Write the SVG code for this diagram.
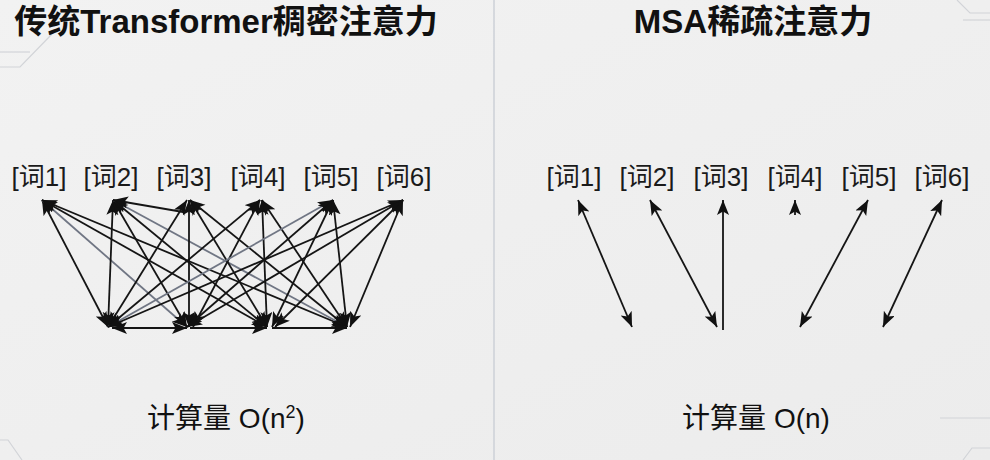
<svg xmlns="http://www.w3.org/2000/svg" width="990" height="460" viewBox="0 0 990 460">
<defs>
<linearGradient id="bg" x1="0" y1="0" x2="1" y2="1">
<stop offset="0" stop-color="#f2f2f2"/>
<stop offset="0.5" stop-color="#efefef"/>
<stop offset="1" stop-color="#ececec"/>
</linearGradient>
<marker id="ah" markerUnits="userSpaceOnUse" markerWidth="18" markerHeight="14" refX="15" refY="6" orient="auto-start-reverse">
<path d="M0,0 L15,6 L0,12 L3.5,6 z" fill="#111"/>
</marker>
</defs>
<style>
.title{font-family:"Liberation Sans","Noto Sans CJK SC",sans-serif;font-weight:bold;font-size:33px;fill:#111;text-anchor:middle}
.tok{font-family:"Liberation Sans","Noto Sans CJK SC",sans-serif;font-size:26px;fill:#1a1a1a;text-anchor:middle}
.cost{font-family:"Liberation Sans","Noto Sans CJK SC",sans-serif;font-size:28px;fill:#111;text-anchor:middle}
.c{stroke:#151515;stroke-width:1.8;fill:none;marker-start:url(#ah);marker-end:url(#ah)}
.g{stroke:#707684;stroke-width:1.8;fill:none;marker-start:url(#ah);marker-end:url(#ah)}
.e{stroke:#151515;stroke-width:1.8;fill:none;marker-end:url(#ah)}
.deco{stroke:#d2d4d8;stroke-width:1.2;fill:none}
</style>
<rect width="990" height="460" fill="url(#bg)"/>
<g id="decor">
<path class="deco" d="M52,34 L20,67 L0,67"/>
<path class="deco" d="M0,52 L30,52"/>
<path class="deco" d="M957,0 L970,13 L990,13"/>
<path class="deco" d="M963,20 L990,20"/>
<path class="deco" d="M0,440 L8,440 L22,460"/>
<path class="deco" d="M963,460 L972,448 L990,448"/>
<path class="deco" d="M940,418 L990,418"/>
<line x1="494" y1="0" x2="494" y2="460" stroke="#cdd1d7" stroke-width="1.5"/>
</g>
<g id="title-left"><text class="title" x="226" y="33">传统Transformer稠密注意力</text></g>
<g id="title-right"><text class="title" x="753" y="33">MSA稀疏注意力</text></g>
<g id="left-tokens">
<g id="L1"><text class="tok" x="39" y="186">[词1]</text></g>
<g id="L2"><text class="tok" x="111" y="186">[词2]</text></g>
<g id="L3"><text class="tok" x="184" y="186">[词3]</text></g>
<g id="L4"><text class="tok" x="258" y="186">[词4]</text></g>
<g id="L5"><text class="tok" x="331" y="186">[词5]</text></g>
<g id="L6"><text class="tok" x="404" y="186">[词6]</text></g>
</g>
<g id="right-tokens">
<g id="R1"><text class="tok" x="574" y="186">[词1]</text></g>
<g id="R2"><text class="tok" x="647" y="186">[词2]</text></g>
<g id="R3"><text class="tok" x="721" y="186">[词3]</text></g>
<g id="R4"><text class="tok" x="795" y="186">[词4]</text></g>
<g id="R5"><text class="tok" x="869" y="186">[词5]</text></g>
<g id="R6"><text class="tok" x="942" y="186">[词6]</text></g>
</g>
<g id="connectors-left">
<line class="c" x1="42" y1="200" x2="108" y2="327"/>
<line class="g" x1="42" y1="200" x2="187" y2="327"/>
<line class="c" x1="42" y1="200" x2="267" y2="327"/>
<line class="c" x1="42" y1="200" x2="347" y2="327"/>
<line class="c" x1="113" y1="200" x2="108" y2="327"/>
<line class="c" x1="113" y1="200" x2="187" y2="327"/>
<line class="c" x1="113" y1="200" x2="267" y2="327"/>
<line class="g" x1="113" y1="200" x2="347" y2="327"/>
<line class="c" x1="187" y1="200" x2="108" y2="327"/>
<line class="c" x1="189" y1="200" x2="189" y2="327"/>
<line class="c" x1="190" y1="200" x2="267" y2="327"/>
<line class="c" x1="190" y1="200" x2="347" y2="327"/>
<line class="c" x1="260" y1="200" x2="108" y2="327"/>
<line class="c" x1="260" y1="200" x2="193" y2="327"/>
<line class="c" x1="262" y1="200" x2="267" y2="327"/>
<line class="c" x1="262" y1="200" x2="347" y2="327"/>
<line class="g" x1="333" y1="200" x2="108" y2="327"/>
<line class="c" x1="333" y1="200" x2="187" y2="327"/>
<line class="c" x1="333" y1="200" x2="272" y2="327"/>
<line class="c" x1="333" y1="200" x2="347" y2="327"/>
<line class="c" x1="403" y1="200" x2="108" y2="327"/>
<line class="c" x1="403" y1="200" x2="187" y2="327"/>
<line class="c" x1="403" y1="200" x2="275" y2="327"/>
<line class="c" x1="403" y1="200" x2="350" y2="327"/>
<line class="e" x1="183" y1="212" x2="113" y2="200"/>
<line class="c" x1="112" y1="328" x2="187" y2="328"/>
<line class="e" x1="190" y1="328" x2="267" y2="328"/>
<line class="e" x1="272" y1="328" x2="347" y2="328"/>
</g>
<g id="connectors-right">
<line class="c" x1="578" y1="200" x2="632" y2="327"/>
<line class="c" x1="650" y1="200" x2="717" y2="327"/>
<line class="e" x1="723" y1="330" x2="723" y2="200"/>
<line class="e" x1="795" y1="215" x2="795" y2="200"/>
<line class="c" x1="868" y1="200" x2="800" y2="327"/>
<line class="c" x1="942" y1="200" x2="883" y2="327"/>
</g>
<g id="cost-left"><text class="cost" x="226" y="428">计算量 O(n<tspan dy="-10" font-size="18">2</tspan><tspan dy="10">)</tspan></text></g>
<g id="cost-right"><text class="cost" x="756" y="428">计算量 O(n)</text></g>
</svg>
